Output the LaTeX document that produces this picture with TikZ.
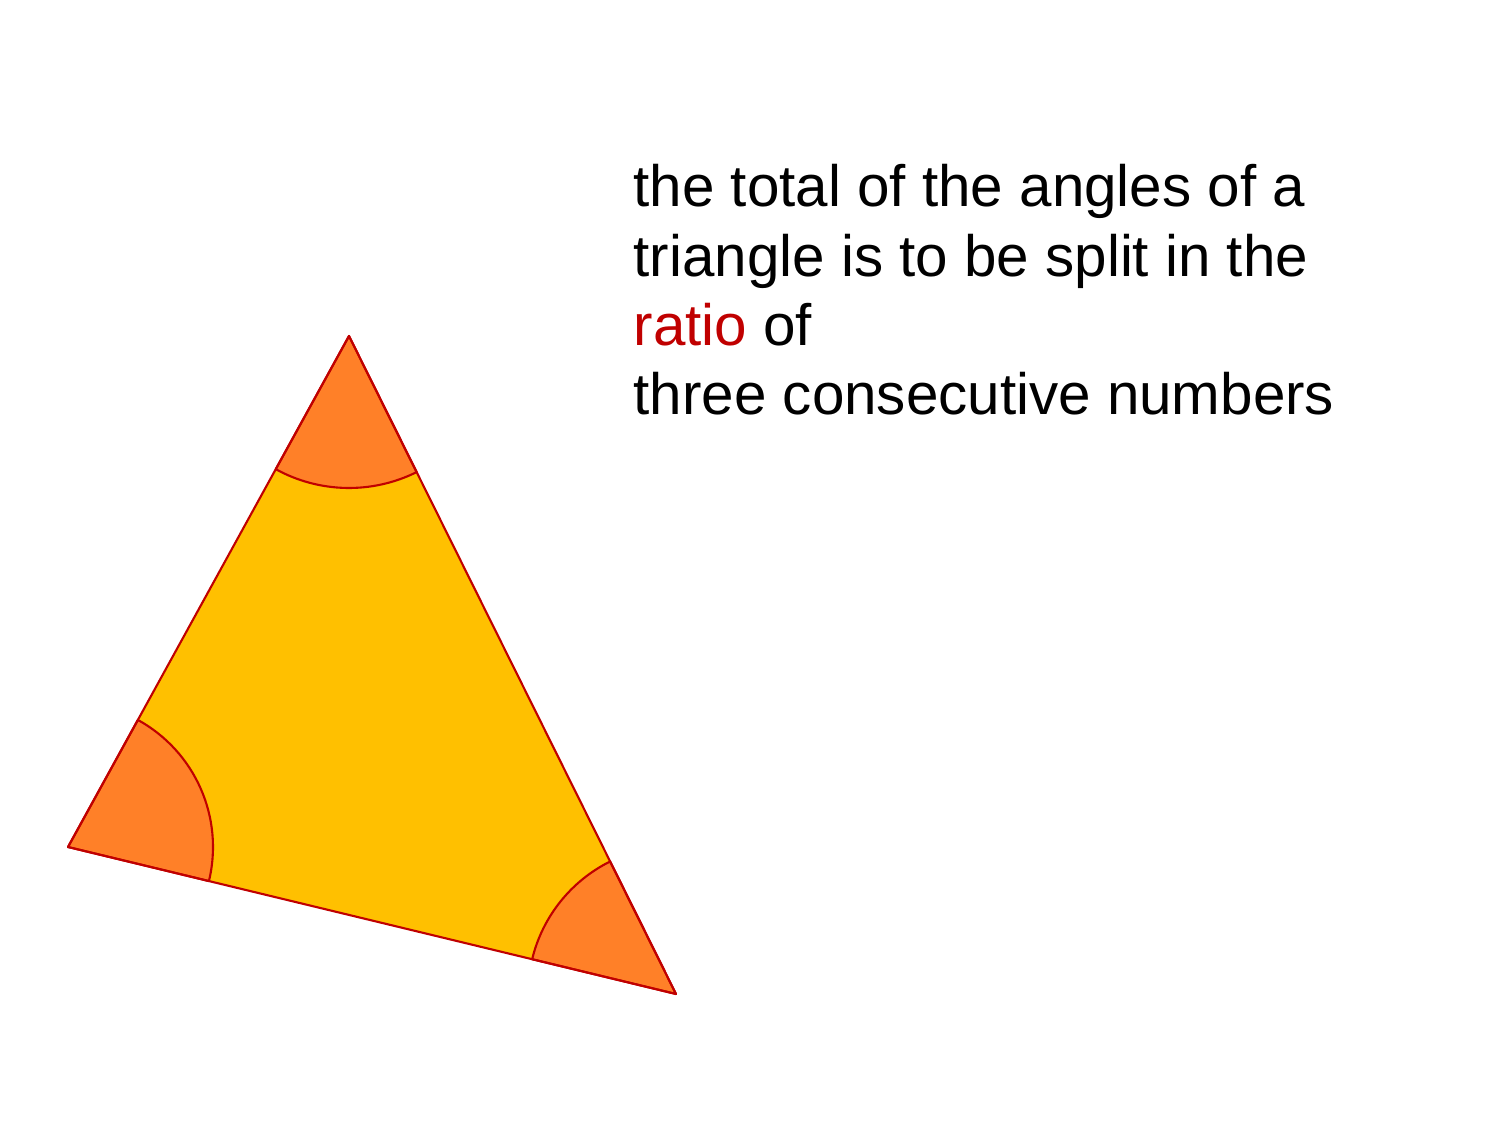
\documentclass[tikz,border=0pt]{standalone}
\usepackage{fontspec}
\setmainfont{Liberation Sans}
\usetikzlibrary{calc}
\definecolor{fillyellow}{HTML}{FFC000}
\definecolor{angleorange}{HTML}{FF8028}
\definecolor{edgered}{HTML}{C00000}
\begin{document}
\begin{tikzpicture}[
        edge/.style={draw=edgered, line width=0.6pt, line join=round},
        sector/.style={fill=angleorange, draw=edgered, line width=0.6pt, line join=round},
        caption/.style={anchor=base west, align=left, inner sep=0pt,
            font=\fontsize{16.6pt}{19.75pt}\selectfont}
    ]
        \useasboundingbox (0, 0) rectangle (15, 11.25);

        \coordinate (top) at (3.49, 7.89);
        \coordinate (left) at (0.68, 2.78);
        \coordinate (right) at (6.76, 1.31);

        \fill[fillyellow] (top) -- (left) -- (right) -- cycle;

        \draw[sector] (top) -- ++(241.19:1.52) arc[start angle=241.19, end angle=296.43, radius=1.52] -- cycle;
        \draw[sector] (left) -- ++(-13.59:1.45) arc[start angle=-13.59, end angle=61.19, radius=1.45] -- cycle;
        \draw[sector] (right) -- ++(116.43:1.48) arc[start angle=116.43, end angle=166.41, radius=1.48] -- cycle;

        \draw[edge] (top) -- (left) -- (right) -- cycle;

        % base of the last line
        \node[caption] (text) at (6.33, 7.10) {the total of the angles of a\\
            triangle is to be split in the\\
            \textcolor{edgered}{ratio} of\\
            three consecutive numbers};

    \end{tikzpicture}
\end{document}
